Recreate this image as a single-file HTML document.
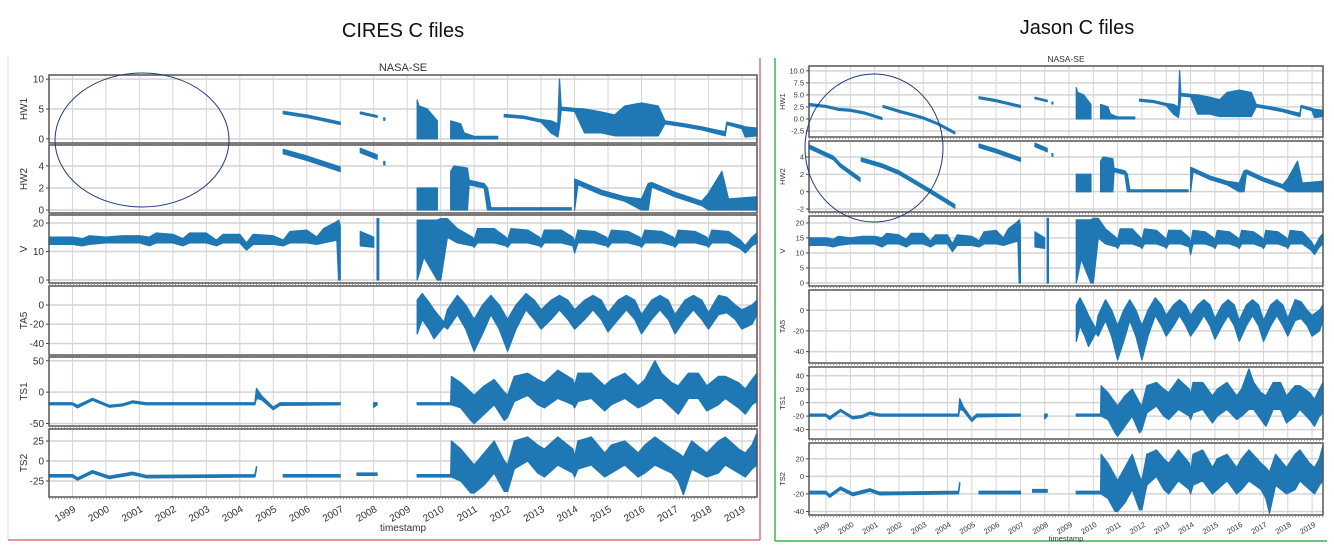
<!DOCTYPE html>
<html><head><meta charset="utf-8"><style>
html,body{margin:0;padding:0;background:#fff;}
svg{display:block;font-family:"Liberation Sans",sans-serif;}
</style></head><body>
<svg id="chart" width="1334" height="557" viewBox="0 0 1334 557" xmlns="http://www.w3.org/2000/svg">
<rect width="1334" height="557" fill="#fff"/>
<text x="403" y="37" font-size="20" text-anchor="middle" fill="#111">CIRES C files</text>
<text x="1077" y="34" font-size="20" text-anchor="middle" fill="#111">Jason C files</text>
<line x1="8" y1="57" x2="8" y2="540" stroke="#ddd" stroke-width="1"/>
<line x1="8" y1="540" x2="760" y2="540" stroke="#e0707a" stroke-width="1.5"/>
<line x1="760" y1="58" x2="760" y2="540" stroke="#e0707a" stroke-width="1.5"/>
<line x1="775" y1="58" x2="775" y2="541" stroke="#3bb54a" stroke-width="1.5"/>
<line x1="775" y1="541" x2="1327" y2="541" stroke="#3bb54a" stroke-width="1.5"/>
<g id="plots"></g>
</svg>
<script>
const years=[1999,2000,2001,2002,2003,2004,2005,2006,2007,2008,2009,2010,2011,2012,2013,2014,2015,2016,2017,2018,2019];
const tDomain=[1998.3,2019.45];
const hw1Early=[[[1998.3,2.8,3.2],[1999,2.4,2.8],[1999.5,1.8,2.2],[2000,1.6,2.0],[2000.6,1.0,1.4],[2001.3,-0.1,0.3]],[[2001.35,2.4,2.8],[2002,1.4,1.8],[2002.6,0.6,1.0],[2003,0,0.4],[2003.6,-1.2,-0.8],[2004.3,-3.1,-2.7]]];
const hw1Data=[[[2005.3,4.2,4.6],[2006,3.6,4.0],[2006.5,3.0,3.4],[2007,2.4,2.8]],[[2007.6,4.2,4.5],[2008.1,3.6,3.9]],[[2008.3,3.1,3.5],[2008.33,3.1,3.5]],[[2009.3,0,6.5],[2009.35,0,5.5],[2009.6,0,5],[2009.9,0,3]],[[2010.3,0,3],[2010.6,0,2.5],[2010.7,0,1],[2011.0,0,0.4],[2011.7,0,0.4]],[[2011.9,3.7,4.1],[2012.5,3.4,3.8],[2013.0,2.8,3.2],[2013.3,1,3],[2013.5,0.3,2.5],[2013.55,2,10],[2013.6,4.8,5.3],[2014.0,4.6,5.1],[2014.3,1,5],[2014.8,1,4.5],[2015.2,0.5,4],[2015.5,0.5,5.5],[2016.0,0.5,6],[2016.5,0.5,5.5],[2016.7,2.5,3],[2017.3,2,2.5],[2017.8,1.5,2],[2018.3,0.8,1.4],[2018.5,0.5,1.2],[2018.55,2.4,2.8],[2019.0,1.7,2.2],[2019.1,0.3,2],[2019.45,0.5,1.8]]];
const hw2Early=[[[1998.3,5.0,5.4],[1999.3,3.7,4.1],[1999.6,2.8,3.2],[2000.4,1.2,1.6]],[[2000.45,3.5,3.9],[2001.3,2.8,3.2],[2002,2.0,2.4],[2003.2,0,0.4],[2004.3,-1.9,-1.5]]];
const hw2Data=[[[2005.3,5.1,5.5],[2006,4.5,4.9],[2007,3.5,3.9]],[[2007.6,5.2,5.6],[2008.1,4.6,5.0]],[[2008.3,4.1,4.4],[2008.33,4.1,4.4]],[[2009.3,0,2],[2009.5,0,2],[2009.9,0,2]],[[2010.3,0,3.5],[2010.4,0,4],[2010.8,0,3.8],[2010.85,2.3,2.7],[2011.3,2.0,2.4],[2011.4,0,2],[2011.5,0,0.2],[2013.9,0,0.2]],[[2014.0,0,2.8],[2014.1,2.3,2.7],[2014.8,1.4,1.8],[2015.5,0.8,1.2],[2016.0,0,1],[2016.2,0,2.4],[2016.3,2.1,2.5],[2017.0,1.2,1.6],[2017.8,0.4,0.8],[2018.0,0,1.5],[2018.4,0,3.5],[2018.6,0,1],[2019.45,0,1.2]]];
const vData=[[[1998.3,12.5,15],[1999,12.5,15],[1999.3,12,14.5],[1999.5,12.5,15.5],[2000,13,15],[2000.5,13,15.5],[2001,13,15.5],[2001.3,12,15],[2001.5,13,16.5],[2002,13,16],[2002.3,12,14.5],[2002.5,13,16.5],[2003,13,16.5],[2003.3,12,14],[2003.5,13,16],[2004,13,16],[2004.2,10.5,13],[2004.4,12.5,16],[2005,12.5,15.5],[2005.3,12,14],[2005.5,13,17],[2006,13,17.5],[2006.3,12.5,15],[2006.5,13,18],[2006.9,14,20.5],[2006.95,0,21],[2007.0,0,19]],[[2007.6,12,17],[2008.0,11.5,15]],[[2008.1,0,21.5],[2008.15,0,21.5]],[[2009.3,0,21],[2009.5,8,21],[2009.9,0,21],[2010.0,0,21.5],[2010.2,15,21.5],[2010.5,13,18],[2010.95,12,15],[2011.0,11.5,14],[2011.1,13,18],[2011.6,13,18],[2011.95,12,15],[2012.0,11.5,14],[2012.1,13,18],[2012.6,13,17.5],[2012.95,12,15],[2013.0,11.5,14],[2013.1,13,17.5],[2013.6,13,17.5],[2013.95,12,15],[2014.0,9.5,13],[2014.1,13,17.5],[2014.6,13,17],[2014.95,12,15],[2015.0,11.5,14],[2015.1,13,17.5],[2015.6,13,17],[2015.95,12,15],[2016.0,11.5,14],[2016.1,13,17.5],[2016.6,13,17],[2016.95,12,15],[2017.0,11.5,14],[2017.1,13,17.5],[2017.6,13,17],[2017.95,12,15],[2018.0,11.5,14],[2018.1,13,17.5],[2018.6,13,17],[2018.95,11,14],[2019.1,9.5,12],[2019.3,12,15],[2019.45,13,16.5]]];
const ta5Data=[[[2009.3,-30,5],[2009.45,-15,12],[2009.65,-25,3],[2009.8,-35,-5],[2010.1,-22,-18],[2010.2,-25,-5],[2010.5,-10,10],[2010.75,-25,0],[2011.0,-48,-15],[2011.25,-30,0],[2011.5,-10,10],[2011.75,-25,0],[2012.0,-48,-15],[2012.25,-25,0],[2012.55,-5,12],[2012.8,-15,5],[2013.0,-25,-5],[2013.3,-15,5],[2013.55,-5,10],[2013.8,-15,5],[2014.0,-25,-5],[2014.3,-15,5],[2014.55,-5,10],[2014.8,-15,5],[2015.0,-28,-8],[2015.3,-15,5],[2015.55,-5,10],[2015.8,-15,5],[2016.0,-30,-10],[2016.3,-15,5],[2016.55,-5,10],[2016.8,-15,5],[2017.0,-30,-10],[2017.3,-15,5],[2017.55,-5,10],[2017.8,-15,5],[2018.0,-25,-8],[2018.3,-10,10],[2018.55,-8,8],[2018.8,-15,0],[2019.0,-25,-5],[2019.3,-20,0],[2019.45,-10,5]]];
const ts1Data=[[[1998.3,-20,-17],[1999.0,-20,-17],[1999.15,-25,-21],[1999.6,-13,-10],[2000.1,-24,-21],[2000.5,-22,-19],[2000.8,-17,-14],[2001.2,-20,-17],[2004.45,-20,-17],[2004.5,-10,6],[2004.65,-12,-6],[2005.0,-28,-24],[2005.2,-21,-17],[2007.0,-20,-17]],[[2008.0,-24,-17],[2008.1,-20,-17]],[[2009.3,-20,-17],[2010.3,-20,-17],[2010.32,-20,25],[2010.6,-25,15],[2010.9,-45,0],[2011.0,-50,-5],[2011.3,-35,10],[2011.6,-20,20],[2011.9,-45,0],[2012.0,-40,-5],[2012.2,-15,25],[2012.6,-5,30],[2012.9,-20,20],[2013.1,-25,15],[2013.5,-10,35],[2013.95,-20,20],[2014.0,-25,10],[2014.1,-15,30],[2014.5,-10,30],[2014.9,-30,10],[2015.1,-20,20],[2015.5,-10,30],[2015.9,-25,10],[2016.1,-20,20],[2016.4,-10,50],[2016.6,-10,30],[2016.9,-25,15],[2017.1,-35,10],[2017.4,-10,30],[2017.7,-10,30],[2017.95,-30,10],[2018.3,-20,25],[2018.5,-10,25],[2018.9,-25,15],[2019.1,-35,5],[2019.3,-20,20],[2019.45,-15,30]]];
const ts2Data=[[[1998.3,-20,-17],[1999,-20,-17],[1999.15,-24,-21],[1999.6,-15,-12],[2000.1,-22,-19],[2000.8,-17,-14],[2001.2,-21,-18],[2004.45,-20,-17],[2004.5,-10,-7]],[[2005.3,-20,-17],[2007.0,-20,-17]],[[2007.5,-18,-15],[2008.1,-18,-15]],[[2009.3,-20,-17],[2010.3,-20,-17],[2010.32,-20,25],[2010.6,-25,15],[2010.9,-40,0],[2011.0,-40,-5],[2011.3,-30,10],[2011.6,-15,25],[2011.9,-38,0],[2012.0,-38,-5],[2012.2,-10,25],[2012.6,0,30],[2012.9,-15,20],[2013.1,-20,15],[2013.5,-5,30],[2013.95,-15,15],[2014.0,-20,5],[2014.1,-10,25],[2014.5,-5,30],[2014.9,-20,10],[2015.1,-15,20],[2015.5,-5,25],[2015.9,-20,10],[2016.1,-15,20],[2016.4,-5,30],[2016.9,-15,15],[2017.1,-25,10],[2017.25,-42,5],[2017.5,-10,25],[2017.95,-20,10],[2018.3,-15,25],[2018.5,-5,30],[2018.9,-15,15],[2019.1,-20,10],[2019.3,-10,20],[2019.45,-5,35]]];
const leftTicks={hw1:[0,5,10],hw2:[0,2,4],v:[0,10,20],ta5:[-40,-20,0],ts1:[-50,0,50],ts2:[-25,0,25]};
const rightTicks={hw1:[-2.5,0,2.5,5,7.5,10],hw2:[-2,0,2,4],v:[0,5,10,15,20],ta5:[-40,-20,0],ts1:[-40,-20,0,20,40],ts2:[-40,-20,0,20]};

const NS='http://www.w3.org/2000/svg';
const root=document.getElementById('plots');
function mk(tag,attrs,parent){const e=document.createElementNS(NS,tag);for(const k in attrs)e.setAttribute(k,attrs[k]);(parent||root).appendChild(e);return e;}

function drawFigure(side,x0,x1,rows,ticks,fs,titleY,yearY,tsY,decKey){
  const g=mk('g',{});
  
  
  const X=t=>x0+(t-tDomain[0])/(tDomain[1]-tDomain[0])*(x1-x0);
  const title=mk('text',{x:(x0+x1)/2,y:titleY,'font-size':fs+1,'text-anchor':'middle',fill:'#333'},g);
  title.textContent='NASA-SE';
  
  
  rows.forEach(r=>{
    const [key,label,top,bot,ymin,ymax,series]=r;
    const dec=(key===decKey);
    const Y=v=>bot-(v-ymin)/(ymax-ymin)*(bot-top);
    const pg=mk('g',{},g);
    
    
    years.forEach(yr=>{const gl=mk('line',{x1:X(yr),x2:X(yr),y1:top,y2:bot,stroke:'#d4d4d4','stroke-width':1},pg);
      });
    ticks[key].forEach(v=>{
      const gl=mk('line',{x1:x0,x2:x1,y1:Y(v),y2:Y(v),stroke:'#d4d4d4','stroke-width':1.5},pg);
      
      mk('line',{x1:x0-3,x2:x0,y1:Y(v),y2:Y(v),stroke:'#444','stroke-width':1},pg);
      const t=mk('text',{x:x0-5,y:Y(v)+fs*0.35,'font-size':fs,'text-anchor':'end',fill:'#333'},pg);
      t.textContent=dec?v.toFixed(1):String(v);
      
    });
    series.forEach(seg=>{
      let d='';
      seg.forEach((p,i)=>{d+=(i?'L':'M')+X(p[0]).toFixed(1)+','+Y(p[2]).toFixed(1);});
      for(let i=seg.length-1;i>=0;i--){d+='L'+X(seg[i][0]).toFixed(1)+','+Y(seg[i][1]).toFixed(1);}
      d+='Z';
      const pth=mk('path',{d:d,fill:'#1f77b4',stroke:'#1f77b4','stroke-width':1.3,'stroke-linejoin':'round'},pg);
      
      
    });
    mk('rect',{x:x0,y:top,width:x1-x0,height:bot-top,fill:'none',stroke:'#555','stroke-width':1.5},pg);
    mk('line',{x1:x0,x2:x1,y1:bot+1.5,y2:bot+1.5,stroke:'#999','stroke-width':1.5,'stroke-dasharray':'1 2'},pg);
    const yl=mk('text',{x:0,y:0,'font-size':fs,'text-anchor':'middle',fill:'#333',transform:'translate('+(x0-(decKey?24:22))+','+((top+bot)/2)+') rotate(-90)'},pg);
    yl.textContent=label;
    
  });
  years.forEach(yr=>{
    const t=mk('text',{x:0,y:0,'font-size':fs,'text-anchor':'end',fill:'#333',transform:'translate('+(X(yr)+4)+','+yearY+') rotate(-30)'},g);
    t.textContent=String(yr);
    
  });
  const xt=mk('text',{x:(x0+x1)/2,y:tsY,'font-size':fs,'text-anchor':'middle',fill:'#333'},g);
  xt.textContent='timestamp';
  
}

drawFigure('left',49,757,[
 ['hw1','HW1',75,143,-0.7,10.7,hw1Data],
 ['hw2','HW2',145,213,-0.27,5.9,hw2Data],
 ['v','V',215,283,-1.05,22.8,vData],
 ['ta5','TA5',286,355,-52,19.8,ta5Data],
 ['ts1','TS1',357,426,-54,56,ts1Data],
 ['ts2','TS2',429,497,-45,40,ts2Data]
],leftTicks,10,71,511,531,null);

drawFigure('right',809,1323,[
 ['hw1','HW1',66,137,-3.75,11,hw1Early.concat(hw1Data)],
 ['hw2','HW2',141,212,-2.35,5.85,hw2Early.concat(hw2Data)],
 ['v','V',216,286,-1,22.3,vData],
 ['ta5','TA5',290,363,-51,19.5,ta5Data],
 ['ts1','TS1',367,439,-54,53,ts1Data],
 ['ts2','TS2',443,515,-44,38,ts2Data]
],rightTicks,7.5,62,526,541,'hw1');

const e1=mk('ellipse',{cx:142,cy:140,rx:87,ry:67,fill:'none',stroke:'#1f3a7a','stroke-width':1});


const e2=mk('ellipse',{cx:874,cy:148,rx:69,ry:74,fill:'none',stroke:'#1f3a7a','stroke-width':1});


</script>
</body></html>
